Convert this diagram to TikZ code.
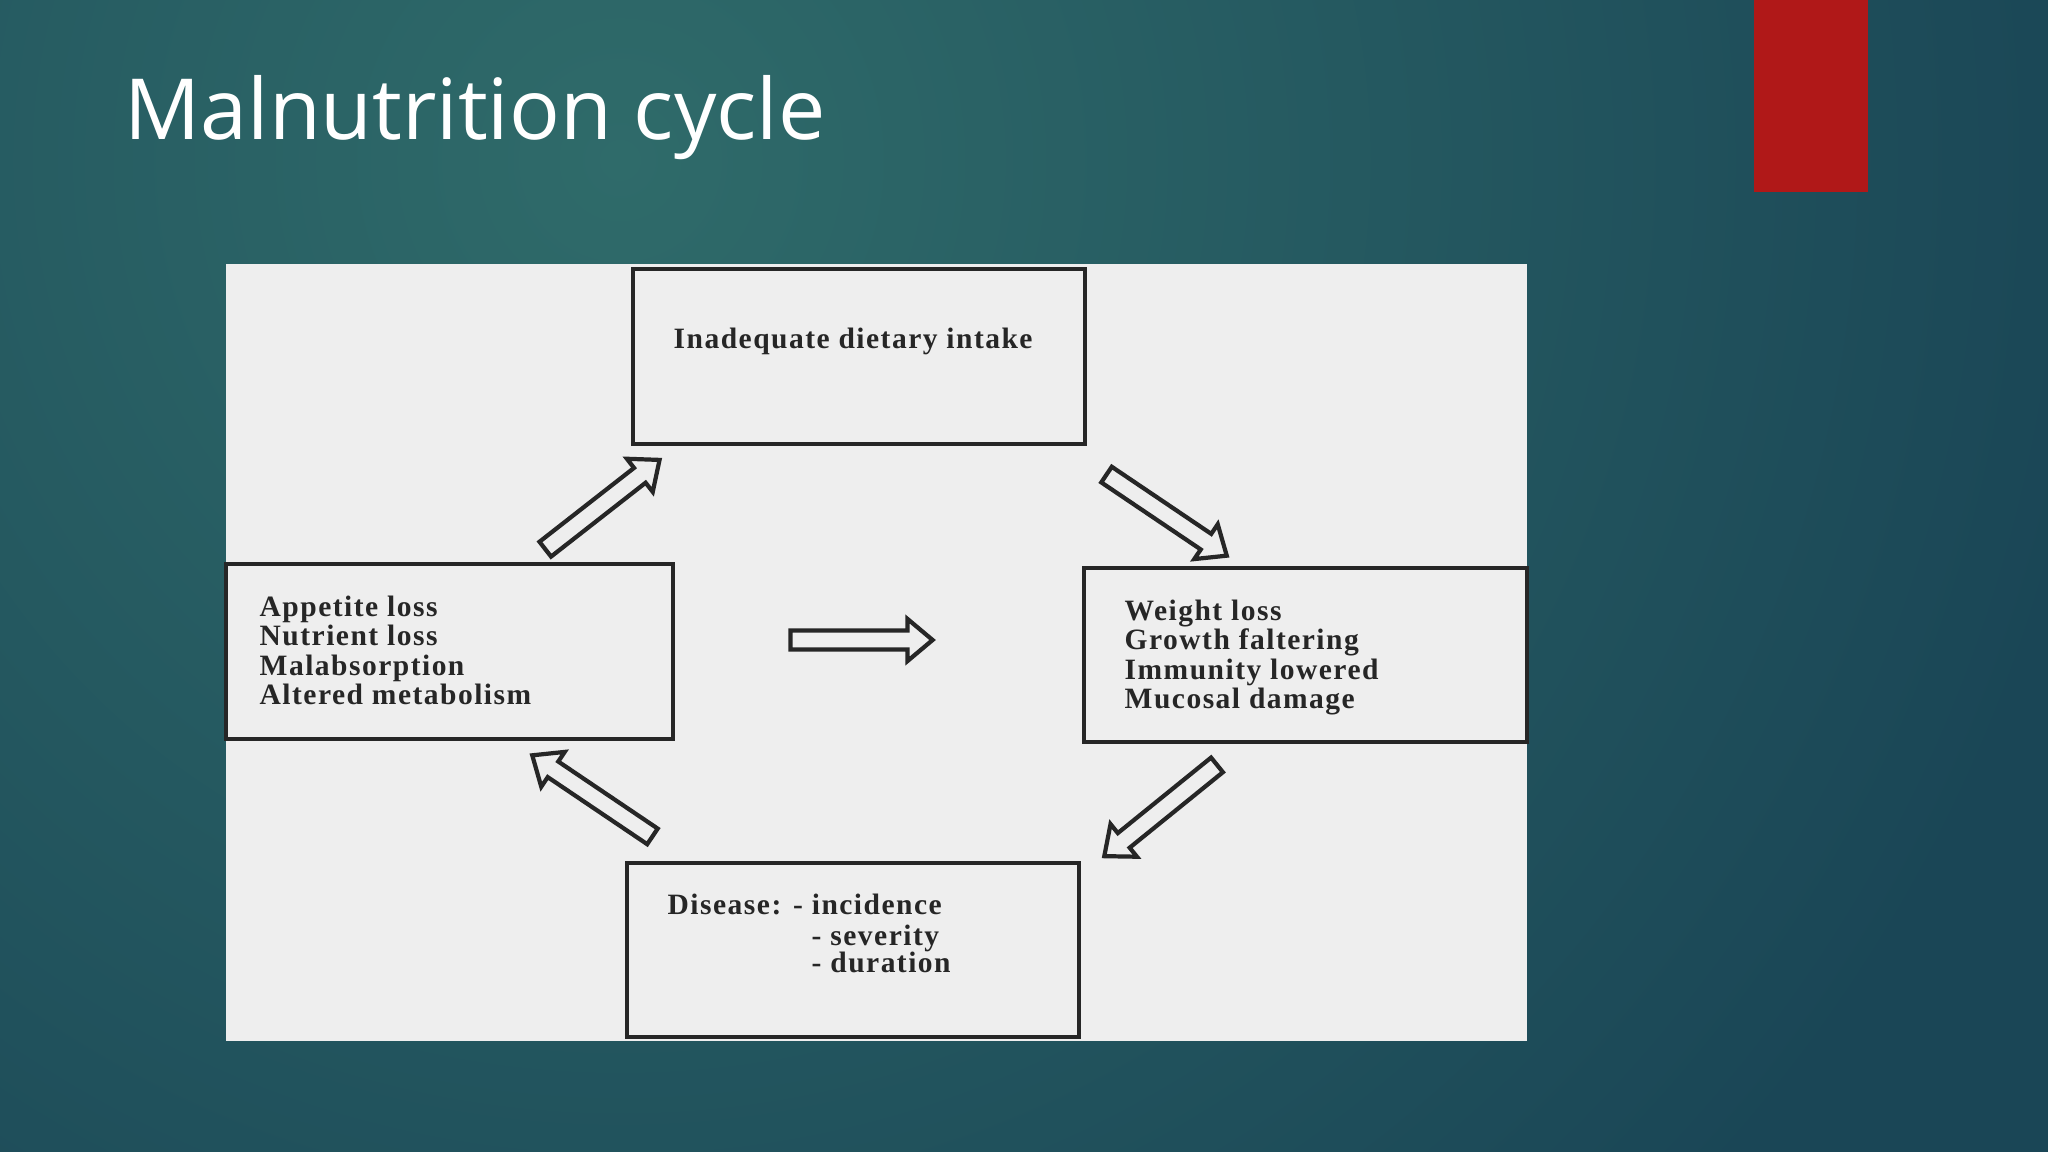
\documentclass[tikz,border=0pt]{standalone}
\usepackage{fontspec}
\setmainfont{Liberation Serif}
\newfontfamily\diagfont[LetterSpace=5]{Liberation Serif}
\newfontfamily\titlefont{Open Sans}
\usetikzlibrary{shapes.arrows}
\definecolor{bgdark}{HTML}{1A4656}
\definecolor{bglight}{HTML}{2F6B6A}
\definecolor{redbar}{HTML}{B01818}
\definecolor{panel}{HTML}{EEEEEE}
\tikzset{
  boxs/.style={draw=black!85, line width=1.3pt, fill=panel},
  lbl/.style={font=\diagfont\fontsize{8.4}{8.4}\selectfont\bfseries, align=left, inner sep=0pt, anchor=north west, text=black!85},
  barrow/.style={single arrow, draw=black!85, line width=1.2pt, fill=panel,
    minimum height=1.45cm, minimum width=0.42cm, single arrow head extend=0.1cm, inner sep=0.6mm, single arrow tip angle=80}
}
\begin{document}
\begin{tikzpicture}
\useasboundingbox (0,0) rectangle (20.48,-11.52);
\begin{scope}
\clip (0,0) rectangle (20.48,-11.52);
\fill[bgdark] (0,0) rectangle (20.48,-11.52);
\shade[inner color=bglight, outer color=bgdark] (6.2,-1.6) circle (15);
\end{scope}
\fill[redbar] (17.54,0) rectangle (18.68,-1.92);
\node[anchor=west, text=white, font=\titlefont\fontsize{24}{28}\selectfont, inner sep=0pt] (title) at (1.24,-1.18) {Malnutrition cycle};
\fill[panel] (2.26,-2.64) rectangle (15.27,-10.41);
\draw[boxs] (6.33,-2.69) rectangle (10.85,-4.44);
\node[lbl] (t1) at (6.73,-3.27) {Inadequate dietary intake};
\draw[boxs] (2.26,-5.64) rectangle (6.73,-7.39);
\node[lbl] (t2) at (2.59,-5.95) {Appetite loss\\Nutrient loss\\Malabsorption\\Altered metabolism};
\draw[boxs] (10.84,-5.68) rectangle (15.27,-7.42);
\node[lbl] (t3) at (11.24,-5.99) {Weight loss\\Growth faltering\\Immunity lowered\\Mucosal damage};
\draw[boxs] (6.27,-8.63) rectangle (10.79,-10.37);
\node[lbl] (t4) at (6.67,-8.93) {Disease: - incidence};
\node[lbl] (t5) at (8.11,-9.24) {- severity\\[-0.5pt]- duration};
\node[barrow, rotate=38] (a1) at (5.98,-5.08) {};
\node[barrow, rotate=-34] (a2) at (11.62,-5.12) {};
\node[barrow, rotate=-141] (a3) at (11.65,-8.07) {};
\node[barrow, rotate=146] (a4) at (5.97,-7.99) {};
\node[barrow, minimum height=1.42cm] (a5) at (8.56,-6.40) {};
\end{tikzpicture}
\end{document}
